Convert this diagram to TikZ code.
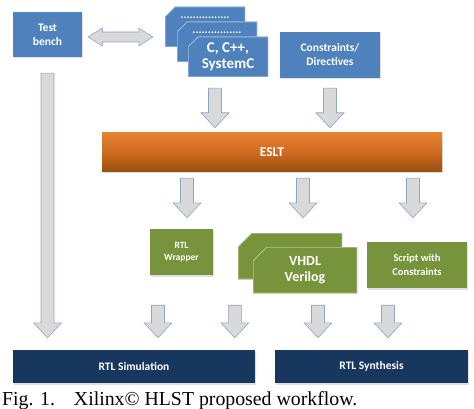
\documentclass[tikz,border=0pt]{standalone}
\usepackage{fontspec}
\usepackage{xcolor}
\usepackage{tikz}
\usetikzlibrary{calc,shadows}

\newfontfamily\boxfont{Carlito}
\newfontfamily\capfont{Liberation Serif}

\definecolor{boxblue}{HTML}{4F81BD}
\definecolor{boxgreen}{HTML}{77933C}
\definecolor{barnavy}{HTML}{17375E}
\definecolor{esltlight}{HTML}{E58230}
\definecolor{esltmid}{HTML}{CF6A1F}
\definecolor{esltdark}{HTML}{94500F}
\definecolor{arrowfill}{HTML}{D9D9D9}
\definecolor{arrowedge}{HTML}{8EA5C3}

\begin{document}
\begin{tikzpicture}[x=1pt, y=-1pt,
    boxtext/.style={text=white, align=center, font=\boxfont\bfseries\fontsize{11.5}{14}\selectfont},
    shade/.style={drop shadow={opacity=0.25, shadow xshift=1pt, shadow yshift=-1.5pt}},
    bluebox/.style={rectangle, fill=boxblue, boxtext, shade, minimum width=100pt, minimum height=46pt},
    snipped/.style 2 args={rectangle, boxtext, inner sep=0pt,
        path picture={\filldraw[fill=#1, draw=#1!55!white, line width=1pt] (path picture bounding box.south west)
            -- ([yshift=-#2]path picture bounding box.north west)
            -- ([xshift=#2]path picture bounding box.north west)
            -- (path picture bounding box.north east)
            -- (path picture bounding box.south east) -- cycle;}},
    codebox/.style={snipped={boxblue}{10pt}, minimum width=80pt, minimum height=40pt},
    dotlabel/.style={anchor=base, yshift=-12pt, text=white, inner sep=0pt, font=\boxfont\bfseries\fontsize{11.5}{14}\selectfont},
    greenbox/.style={rectangle, fill=boxgreen, boxtext, shade, minimum width=100pt, minimum height=46pt},
    hdlbox/.style={snipped={boxgreen}{14pt}, minimum width=104pt, minimum height=46pt},
    bar/.style={rectangle, fill=barnavy, boxtext, shade, minimum height=33pt},
    arrow/.style={draw=arrowedge, fill=arrowfill, line width=0.6pt, line join=miter,
        to path={let \p1=(\tikztostart), \p2=(\tikztotarget),
            \n1={atan2(\y2-\y1,\x2-\x1)}, \n2={veclen(\x2-\x1,\y2-\y1)-15pt} in
            ($(\p1)+(\n1+90:6.5pt)$) -- ($(\p1)+(\n1:\n2)+(\n1+90:6.5pt)$)
            -- ($(\p1)+(\n1:\n2)+(\n1+90:14pt)$) -- (\p2)
            -- ($(\p1)+(\n1:\n2)+(\n1-90:14pt)$) -- ($(\p1)+(\n1:\n2)+(\n1-90:6.5pt)$)
            -- ($(\p1)+(\n1-90:6.5pt)$) -- cycle}},
    twoway/.style={draw=arrowedge, fill=arrowfill, line width=0.6pt, line join=miter,
        to path={let \p1=(\tikztostart), \p2=(\tikztotarget),
            \n1={atan2(\y2-\y1,\x2-\x1)}, \n2={veclen(\x2-\x1,\y2-\y1)-14pt} in
            (\p1) -- ($(\p1)+(\n1:14pt)+(\n1+90:9pt)$) -- ($(\p1)+(\n1:14pt)+(\n1+90:5pt)$)
            -- ($(\p1)+(\n1:\n2)+(\n1+90:5pt)$) -- ($(\p1)+(\n1:\n2)+(\n1+90:9pt)$)
            -- (\p2)
            -- ($(\p1)+(\n1:\n2)+(\n1-90:9pt)$) -- ($(\p1)+(\n1:\n2)+(\n1-90:5pt)$)
            -- ($(\p1)+(\n1:14pt)+(\n1-90:5pt)$) -- ($(\p1)+(\n1:14pt)+(\n1-90:9pt)$)
            -- cycle}}
]
    \useasboundingbox (0,0) rectangle (474,409);

    % top row
    \node[bluebox, minimum width=69pt, minimum height=45pt] (tb) at (47.5,34.5) {Test\\bench};
    \node[codebox, label={[dotlabel]north:{................}}] (cback) at (205,27) {};
    \node[codebox, label={[dotlabel]north:{................}}] (cmid) at (217,42) {};
    \node[codebox, font=\boxfont\bfseries\fontsize{15}{16}\selectfont] (cfront) at (228,57) {C, C++,\\SystemC};
    \node[bluebox] (cons) at (330,55) {Constraints/\\Directives};

    \node[rectangle, shade, minimum width=340pt, minimum height=39pt, boxtext,
        top color=esltlight, bottom color=esltdark, middle color=esltmid,
        font=\boxfont\bfseries\fontsize{13.5}{15}\selectfont] (eslt) at (272,152.5) {ESLT};

    % generated files
    \node[greenbox, minimum width=63pt, font=\boxfont\bfseries\fontsize{9.5}{12}\selectfont] (wrap) at (181.5,252) {RTL\\Wrapper};
    \node[hdlbox] (vback) at (290,256) {};
    \node[hdlbox, font=\boxfont\bfseries\fontsize{14}{16}\selectfont] (vfront) at (305,270) {VHDL\\Verilog};
    \node[greenbox, font=\boxfont\bfseries\fontsize{10.5}{13.5}\selectfont] (script) at (417,265) {Script with\\Constraints};

    \node[bar, minimum width=242pt] (sim) at (134,366.5) {RTL Simulation};
    \node[bar, minimum width=193pt] (synth) at (371.5,366.5) {RTL Synthesis};

    \node[anchor=base west, inner sep=0pt, font=\capfont\fontsize{19.8}{22}\selectfont] (cap) at (2,405)
        {Fig. 1.\hspace{19pt}Xilinx© HLST proposed workflow.};

    \draw[twoway] ([xshift=6pt,yshift=-2.5pt]tb.east) to ([xshift=-12pt,yshift=-2.5pt]tb.east -| cback.west);
    \draw[arrow] ([yshift=-16pt]tb.south) to ([yshift=12pt]tb.south |- sim.north);
    \draw[arrow] ([xshift=-13pt,yshift=-11pt]cfront.south) to ([xshift=-13pt,yshift=5pt]cfront.south |- eslt.north);
    \draw[arrow] ([yshift=-10pt]cons.south) to ([yshift=5pt]cons.south |- eslt.north);
    \draw[arrow] ([xshift=5.5pt,yshift=-6pt]wrap.north |- eslt.south) to ([xshift=5.5pt,yshift=11pt]wrap.north);
    \draw[arrow] ([xshift=-2pt,yshift=-6pt]vfront.north |- eslt.south) to ([xshift=-2pt,yshift=15pt]vfront.north |- vback.north);
    \draw[arrow] ([xshift=-4pt,yshift=-6pt]script.north |- eslt.south) to ([xshift=-4pt,yshift=24pt]script.north);
    \draw[arrow] ([xshift=-23.5pt,yshift=-30pt]wrap.south) to ([xshift=-23.5pt,yshift=12pt]wrap.south |- sim.north);
    \draw[arrow] ([xshift=-3pt,yshift=-12pt]vback.west |- vfront.south) to ([xshift=-3pt,yshift=12pt]vback.west |- sim.north);
    \draw[arrow] ([xshift=13pt,yshift=-12pt]vfront.south) to ([xshift=13pt,yshift=12pt]vfront.south |- synth.north);
    \draw[arrow] ([xshift=-29pt,yshift=-17pt]script.south) to ([xshift=-29pt,yshift=12pt]script.south |- synth.north);
\end{tikzpicture}
\end{document}
